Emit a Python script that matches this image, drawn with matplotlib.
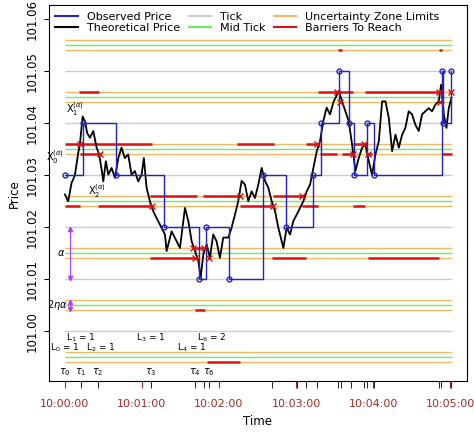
import matplotlib
matplotlib.use("Agg")
import matplotlib.pyplot as plt
from matplotlib.lines import Line2D

# theoretical price trace (seconds after 10:00:00, price)
theo_t = [0, 2.6, 5.2, 7.8, 10.4, 11.7, 13.8, 15.6, 17.4, 19.5, 22.1, 24.7, 26.7, 28.6, 29.9, 31.9,
          33.8, 36.4, 39.0, 41.6, 44.1, 46.7, 49.3, 51.9, 54.5, 57.1, 59.7, 61.5, 63.6, 66.2, 68.8,
          70.1, 74.0, 77.9, 79.2, 83.1, 87.0, 89.6, 93.5, 96.1, 98.7, 101.3, 103.9, 105.7, 107.8,
          110.4, 112.9, 115.5, 118.1, 120.7, 123.3, 127.2, 129.8, 132.4, 135.0, 137.6, 140.2, 142.8,
          145.4, 148.0, 150.6, 153.2, 155.8, 158.4, 161.0, 163.6, 166.2, 168.8, 170.1, 172.7, 175.3,
          177.9, 180.5, 183.1, 185.7, 188.3, 190.9, 193.5, 196.1, 198.6, 201.2, 203.8, 206.4,
          209.3, 211.9, 213.2, 215.8, 218.4, 221.0, 223.6, 226.2, 228.8, 231.4, 234.0, 236.6, 239.2,
          241.8, 244.4, 247.0, 249.6, 252.2, 254.8, 257.4, 260.0, 262.6, 265.1, 267.7, 270.3, 272.9,
          275.5, 278.1, 280.7, 283.3, 285.9, 288.5, 291.1, 292.9, 295.0, 297.1, 298.9, 301.0]
theo_p = [101.0263, 101.0250, 101.0285, 101.0300, 101.0343, 101.0359, 101.0413, 101.0404, 101.0381,
          101.0372, 101.0385, 101.0353, 101.0340, 101.0311, 101.0288, 101.0327, 101.0301, 101.0314,
          101.0295, 101.0333, 101.0353, 101.0333, 101.0340, 101.0301, 101.0308, 101.0288, 101.0301,
          101.0333, 101.0276, 101.0250, 101.0231, 101.0224, 101.0205, 101.0186, 101.0154, 101.0192,
          101.0173, 101.0160, 101.0237, 101.0212, 101.0173, 101.0154, 101.0135, 101.0103, 101.0148,
          101.0167, 101.0141, 101.0186, 101.0173, 101.0141, 101.0180, 101.0180, 101.0199, 101.0224,
          101.0250, 101.0289, 101.0282, 101.0250, 101.0269, 101.0256, 101.0282, 101.0314, 101.0289,
          101.0276, 101.0250, 101.0231, 101.0199, 101.0173, 101.0160, 101.0199, 101.0186, 101.0212,
          101.0224, 101.0237, 101.0250, 101.0269, 101.0282, 101.0314, 101.0346, 101.0365, 101.0404,
          101.0430, 101.0417, 101.0442, 101.0455, 101.0462, 101.0442, 101.0423, 101.0404, 101.0359,
          101.0308, 101.0333, 101.0353, 101.0359, 101.0327, 101.0301, 101.0340, 101.0365, 101.0442,
          101.0442, 101.0410, 101.0346, 101.0378, 101.0353, 101.0378, 101.0391, 101.0423, 101.0417,
          101.0397, 101.0385, 101.0417, 101.0423, 101.0429, 101.0423, 101.0436, 101.0442, 101.0474,
          101.0417, 101.0391, 101.0429, 101.0449]

# observed price: change times and level after each change
obs_t = [0, 14.0, 39.7, 77.1, 104.4, 109.8, 127.8, 154.2, 172.2, 193.2, 199.4, 213.4, 221.2,
         225.1, 235.3, 240.7, 293.7, 294.5, 300.7]
obs_p = [101.03, 101.04, 101.03, 101.02, 101.01, 101.02, 101.01, 101.03, 101.02, 101.03, 101.04,
         101.05, 101.04, 101.03, 101.04, 101.03, 101.05, 101.04, 101.05]

tick_levels = [101.00, 101.01, 101.02, 101.03, 101.04, 101.05]
mid_levels = [100.995, 101.005, 101.015, 101.025, 101.035, 101.045, 101.055]
eta_alpha = 0.001

# barriers: (level, start, end)
barriers = [(101.046, 10.9, 26.5), (101.046, 197, 224), (101.046, 234, 291), (101.046, 299, 301.5),
            (101.036, 0, 67.8), (101.036, 134, 163), (101.036, 188, 198), (101.036, 224, 235),
            (101.034, 11.7, 27.3), (101.034, 199, 212), (101.034, 216, 224), (101.034, 235, 239),
            (101.034, 294, 301.5), (101.026, 66, 103), (101.026, 107.5, 136), (101.026, 162, 185),
            (101.024, 0, 11.7), (101.024, 25.7, 67.8), (101.024, 136, 162), (101.024, 185, 197),
            (101.024, 224, 234), (101.016, 100, 109), (101.014, 66, 101), (101.014, 161, 188),
            (101.014, 236, 291), (101.004, 101, 109), (100.994, 111, 136),
            (101.054, 213, 216), (101.054, 291, 294)]
cross_t = [11.7, 27.3, 67.8, 101, 100, 108, 112, 136, 162, 185, 196, 212, 214, 224, 233, 236, 291, 292, 301]
cross_p = [101.036, 101.034, 101.024, 101.014, 101.016, 101.016, 101.014, 101.026, 101.024, 101.026,
           101.036, 101.046, 101.044, 101.034, 101.036, 101.034, 101.046, 101.044, 101.046]

event_ticks = [12.5, 25.7, 67.0, 101.3, 108.3, 112.2, 120.0, 161.3, 180.7, 187.7, 196.3, 212.7,
               215.1, 222.8, 232.9, 235.3, 240.7, 291.3, 292.9, 300.7]
time_ticks = [0, 60, 120, 180, 240, 300]
time_labels = ["10:00:00", "10:01:00", "10:02:00", "10:03:00", "10:04:00", "10:05:00"]

tau_t = [0, 12.5, 25.7, 67.0, 101.3, 112.2]
tau_lab = [r"$\tau_0$", r"$\tau_1$", r"$\tau_2$", r"$\tau_3$", r"$\tau_4$", r"$\tau_6$"]
L_t = [0, 12.5, 28, 67.0, 99, 114]
L_p = [100.9969, 100.9988, 100.9969, 100.9988, 100.9969, 100.9988]
L_lab = [r"L$_0$ = 1", r"L$_1$ = 1", r"L$_2$ = 1", r"L$_3$ = 1", r"L$_4$ = 1", r"L$_6$ = 2"]

ORANGE = "#F5B860"
GREEN = "#66EE66"
GRAY = "#CCCCCC"
RED = "#E01010"
BLUE = "#2222CC"
DARKRED = "#A52A2A"
PURPLE = "#B040FF"

fig = plt.figure(figsize=(4.74, 4.34), dpi=100)
ax = fig.add_axes([0.103, 0.122, 0.882, 0.866])
x0, x1 = 0, 301.5

for lv in tick_levels:
    ax.hlines(lv, x0, x1, color=GRAY, lw=1)
for lv in mid_levels:
    ax.hlines(lv, x0, x1, color=GREEN, lw=1)
    ax.hlines([lv - eta_alpha, lv + eta_alpha], x0, x1, color=ORANGE, lw=1)
for lv, a, b in barriers:
    ax.hlines(lv, a, b, color=RED, lw=1.8)

ax.plot(theo_t, theo_p, color="black", lw=1.3)
ax.plot(obs_t, obs_p, color=BLUE, lw=1, drawstyle="steps-post")
ax.plot(obs_t, obs_p, "o", mfc="none", mec=BLUE, ms=3.5, mew=1)
ax.plot(cross_t, cross_p, "x", color=RED, ms=4, mew=1)

# alpha and 2*eta*alpha arrows
ax.vlines(4, 101.01, 101.02, color=PURPLE, lw=0.8)
ax.plot([4], [101.0103], marker="v", color=PURPLE, ms=3)
ax.plot([4], [101.0197], marker="^", color=PURPLE, ms=3)
ax.text(0, 101.015, r"$\alpha$", fontsize=7, ha="right", va="center")
ax.vlines(4, 101.004, 101.006, color=PURPLE, lw=0.8)
ax.plot([4], [101.0043], marker="v", color=PURPLE, ms=3)
ax.plot([4], [101.0057], marker="^", color=PURPLE, ms=3)
ax.text(2, 101.005, r"2$\eta\alpha$", fontsize=7, ha="right", va="center")

ax.text(-1, 101.0335, r"X$_0^{(\alpha)}$", fontsize=7, ha="right", va="center")
ax.text(8, 101.0427, r"X$_1^{(\alpha)}$", fontsize=7, ha="center", va="center")
ax.text(25, 101.027, r"X$_2^{(\alpha)}$", fontsize=7, ha="center", va="center")
for t, p, s in zip(L_t, L_p, L_lab):
    ax.text(t, p, s, fontsize=6.5, ha="center", va="center")
for t, s in zip(tau_t, tau_lab):
    ax.text(t, 100.9921, s, fontsize=7, ha="center", va="center")

ax.set_xlim(-12.5, 313)
ax.set_ylim(100.9904, 101.0627)
ax.set_xticks(time_ticks)
ax.set_xticklabels(time_labels, color=DARKRED, fontsize=8)
ax.tick_params(axis="x", colors=DARKRED, labelcolor=DARKRED, length=5, pad=8)
ax.set_xticks(event_ticks, minor=True)
ax.tick_params(axis="x", which="minor", length=5, color="black")
ax.set_yticks([101.00, 101.01, 101.02, 101.03, 101.04, 101.05, 101.06])
ax.set_yticklabels(["101.00", "101.01", "101.02", "101.03", "101.04", "101.05", "101.06"],
                   rotation=90, va="center", fontsize=8.5)
ax.set_xlabel("Time", fontsize=8.5)
ax.set_ylabel("Price", fontsize=8.5)

handles = [Line2D([], [], color=BLUE), Line2D([], [], color="black"),
           Line2D([], [], color=GRAY), Line2D([], [], color=GREEN),
           Line2D([], [], color=ORANGE), Line2D([], [], color=RED)]
labels = ["Observed Price", "Theoretical Price", "Tick", "Mid Tick",
          "Uncertainty Zone Limits", "Barriers To Reach"]
ax.legend(handles, labels, ncol=3, loc="upper left", frameon=False, fontsize=8,
          handlelength=2, borderaxespad=0.2, labelspacing=0.1, columnspacing=0.8,
          bbox_to_anchor=(0.0, 1.0))

fig.savefig("out.png", dpi=100)
